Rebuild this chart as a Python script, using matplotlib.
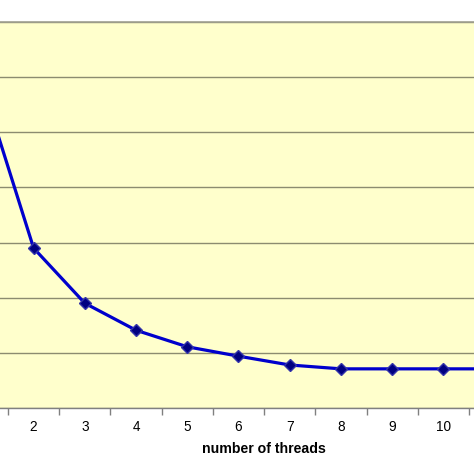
import matplotlib
matplotlib.use("Agg")
import matplotlib.pyplot as plt
from matplotlib.ticker import MultipleLocator, FixedLocator

threads = [1, 2, 3, 4, 5, 6, 7, 8, 9, 10, 11, 12]
times = [58.5, 29.0, 19.0, 14.1, 11.1, 9.4, 7.8, 7.1, 7.1, 7.1, 7.1, 7.1]
tick_labels = [str(t) for t in threads]
xlabel = "number of threads"

W = H = 474
fig = plt.figure(figsize=(W / 100, H / 100), dpi=100)
fig.patch.set_facecolor("white")

step = 51.22
left_px = 8 - step
right_px = left_px + step * len(threads)
bottom_px, top_px = 408, 22
ax = fig.add_axes([left_px / W, (H - bottom_px) / H,
                   (right_px - left_px) / W, (bottom_px - top_px) / H])
ax.set_facecolor("#FFFFCC")

ax.plot(threads, times, color="#0000CC", lw=2.3, marker="D", ms=6.5,
        mfc="#000080", mec="#3333AA", mew=1.0, zorder=3, clip_on=False)

ax.set_xlim(0.5, len(threads) + 0.5)
ax.set_ylim(0, 70)
ax.yaxis.set_major_locator(MultipleLocator(10))
ax.yaxis.grid(True, color="#8C8C70", lw=1.0)
ax.set_axisbelow(True)
ax.set_yticklabels([])
ax.tick_params(axis="y", length=0)

ax.set_xticks(threads)
ax.set_xticklabels(tick_labels, fontsize=9.8, family=["Liberation Sans", "DejaVu Sans"])
ax.tick_params(axis="x", length=0, pad=8.5)
ax.xaxis.set_minor_locator(FixedLocator([t + 0.5 for t in threads[:-1]]))
ax.tick_params(axis="x", which="minor", length=5, width=1, color="#808080", direction="out")

for s in ["left", "right"]:
    ax.spines[s].set_visible(False)
ax.spines["top"].set_color("#A0A090")
ax.spines["bottom"].set_color("#808080")
ax.spines["top"].set_linewidth(1.2)
ax.spines["bottom"].set_linewidth(1.0)

ax.set_xlabel(xlabel, fontsize=10.2, fontweight="bold",
              family=["Liberation Sans", "DejaVu Sans"], labelpad=6)

fig.savefig("out.png", dpi=100, facecolor="white")
